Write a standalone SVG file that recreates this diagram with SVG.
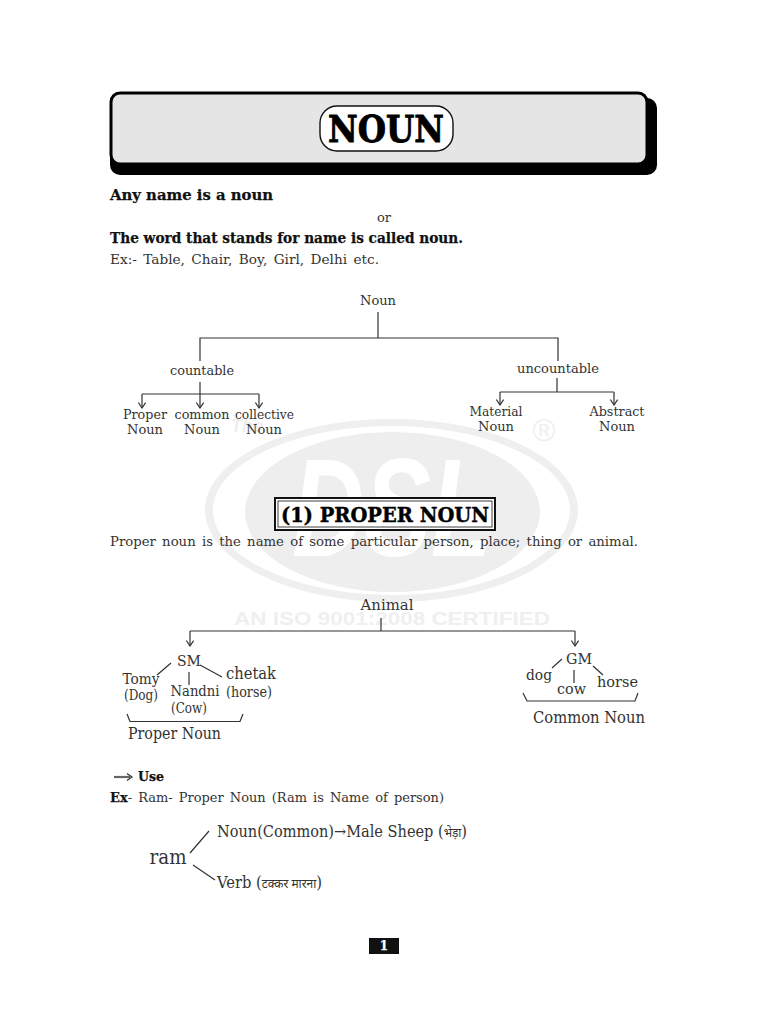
<svg xmlns="http://www.w3.org/2000/svg" width="768" height="1024" viewBox="0 0 768 1024">
<style>
text{font-family:"DejaVu Serif","Liberation Serif",serif;fill:#333}
.b{font-weight:bold;fill:#111;stroke:#111;stroke-width:.25}
.m{text-anchor:middle}
.s{font-size:13px}
.t{word-spacing:2px}
.c{fill:none;stroke:#333;stroke-width:1.2}
.wt{font-family:"Liberation Sans",sans-serif;font-weight:bold}
.d{font-family:"Noto Sans Devanagari","Noto Sans",sans-serif;font-size:13px}
</style>
<defs><marker id="a" viewBox="0 0 10 10" refX="9" refY="5" markerWidth="9" markerHeight="9" markerUnits="userSpaceOnUse" orient="auto"><path d="M3 1 L9 5 L3 9" fill="none" stroke="#333" stroke-width="1.3"/></marker></defs>
<rect width="768" height="1024" fill="#fff"/>
<g id="watermark">
<path fill="#efefef" fill-rule="evenodd" d="M392 419C495 419 578 460 578 510C578 560 495 602 392 602C289 602 205 560 205 510C205 460 289 419 392 419ZM392 426C294 426 213 464 213 510C213 556 294 595 392 595C490 595 570 556 570 510C570 464 490 426 392 426Z"/>
<ellipse cx="392.500" cy="512" rx="147.500" ry="80" fill="#eeeeee"/>
<text class="wt" x="392" y="556" font-size="140" font-style="italic" text-anchor="middle" textLength="200" lengthAdjust="spacingAndGlyphs" style="fill:#fff">DSL</text>
<text class="wt" x="392" y="625" font-size="19" text-anchor="middle" textLength="316" lengthAdjust="spacingAndGlyphs" style="fill:#efefef">AN ISO 9001:2008 CERTIFIED</text>
<text class="wt" x="544" y="441" font-size="31" text-anchor="middle" style="fill:#efefef;font-weight:normal">®</text>
<text class="wt" x="247" y="432" font-size="18" font-style="italic" text-anchor="middle" style="fill:#eeeeee">The</text>
</g>
<g id="title">
<rect x="110" y="98" width="547" height="77" rx="10" fill="#000"/>
<rect x="111" y="93" width="536" height="71" rx="9" fill="#e5e5e5" stroke="#000" stroke-width="3"/>
<rect x="320" y="106" width="133" height="45" rx="17" fill="#fff" stroke="#111" stroke-width="1.4"/>
<text class="b m" x="386" y="142" font-size="37" textLength="116" lengthAdjust="spacingAndGlyphs" style="fill:#000;stroke:#000;stroke-width:.9">NOUN</text>
</g>
<g id="intro">
<text class="b" x="110" y="200" font-size="14.500" textLength="163" lengthAdjust="spacingAndGlyphs">Any name is a noun</text>
<text class="s m" x="384" y="222">or</text>
<text class="b" x="110" y="243" font-size="14.500" textLength="353" lengthAdjust="spacingAndGlyphs">The word that stands for name is called noun.</text>
<text class="s t" x="110" y="264" textLength="269" lengthAdjust="spacingAndGlyphs">Ex:- Table, Chair, Boy, Girl, Delhi etc.</text>
</g>
<g id="connectors">
<path class="c" d="M378 312V338M200 361V338H558V361"/>
<path class="c" d="M200 382V394M142 394H259M557 378V392M500 392H614"/>
<path class="c" marker-end="url(#a)" d="M142 394V408"/>
<path class="c" marker-end="url(#a)" d="M200 394V408"/>
<path class="c" marker-end="url(#a)" d="M259 394V408"/>
<path class="c" marker-end="url(#a)" d="M500 392V405"/>
<path class="c" marker-end="url(#a)" d="M614 392V405"/>
<path class="c" d="M381 618V631M190 631H575"/>
<path class="c" marker-end="url(#a)" d="M190 631V646"/>
<path class="c" marker-end="url(#a)" d="M575 631V646"/>
<path class="c" d="M157 675L171 663M200 665L222 677M189 672V685M127 714L130 721.500H240L243 714"/>
<path class="c" d="M552 668L562 659M593 666L603 675M574 670V683M523 693L527 701H635L638 693"/>
<path class="c" d="M190 853L209 831M193 865L215 880"/>
<path d="M114 777H130" fill="none" stroke="#666" stroke-width="2.200"/><path class="c" d="M127 773.500L132 777L127 780.500"/>
</g>
<g id="n-noun"><text class="s m" x="378" y="305">Noun</text></g>
<g id="n-countable"><text class="s m" x="202" y="375" textLength="64" lengthAdjust="spacingAndGlyphs">countable</text></g>
<g id="n-uncountable"><text class="s m" x="558" y="373" textLength="82" lengthAdjust="spacingAndGlyphs">uncountable</text></g>
<g id="n-proper"><text class="s m" x="145" y="419" textLength="44" lengthAdjust="spacingAndGlyphs">Proper</text><text class="s m" x="145" y="434">Noun</text></g>
<g id="n-common"><text class="s m" x="202" y="419" textLength="55" lengthAdjust="spacingAndGlyphs">common</text><text class="s m" x="202" y="434">Noun</text></g>
<g id="n-collective"><text class="s m" x="264.500" y="419" textLength="59" lengthAdjust="spacingAndGlyphs">collective</text><text class="s m" x="264" y="434">Noun</text></g>
<g id="n-material"><text class="s m" x="496" y="416" textLength="53" lengthAdjust="spacingAndGlyphs">Material</text><text class="s m" x="496" y="431">Noun</text></g>
<g id="n-abstract"><text class="s m" x="617" y="416" textLength="55" lengthAdjust="spacingAndGlyphs">Abstract</text><text class="s m" x="617" y="431">Noun</text></g>
<g id="heading">
<rect x="275" y="498" width="220" height="32" fill="#fff" stroke="#111" stroke-width="2"/>
<rect x="278" y="501" width="214" height="26" fill="none" stroke="#111" stroke-width="0.8"/>
<text class="b m" x="385" y="522" font-size="20.500" textLength="208" lengthAdjust="spacingAndGlyphs" style="fill:#000;stroke:#000;stroke-width:.4">(1) PROPER NOUN</text>
</g>
<text class="s t" x="110" y="546" textLength="528" lengthAdjust="spacingAndGlyphs">Proper noun is the name of some particular person, place; thing or animal.</text>
<g id="n-animal"><text class="m" x="387" y="610" font-size="15" textLength="53" lengthAdjust="spacingAndGlyphs">Animal</text></g>
<g id="n-sm"><text class="m" x="189" y="666" font-size="15" textLength="24" lengthAdjust="spacingAndGlyphs">SM</text></g>
<g id="n-tomy"><text class="m" x="141" y="684" font-size="15" textLength="37" lengthAdjust="spacingAndGlyphs">Tomy</text><text class="m" x="141" y="700" font-size="14" textLength="34" lengthAdjust="spacingAndGlyphs">(Dog)</text></g>
<g id="n-nandni"><text class="m" x="195" y="696" font-size="15" textLength="49" lengthAdjust="spacingAndGlyphs">Nandni</text><text class="m" x="189" y="713" font-size="14" textLength="36" lengthAdjust="spacingAndGlyphs">(Cow)</text></g>
<g id="n-chetak"><text class="m" x="251" y="679" font-size="16" textLength="50" lengthAdjust="spacingAndGlyphs">chetak</text><text class="m" x="249" y="697" font-size="14" textLength="46" lengthAdjust="spacingAndGlyphs">(horse)</text></g>
<g id="n-propernoun"><text class="m" x="174.500" y="739" font-size="16" textLength="93" lengthAdjust="spacingAndGlyphs">Proper Noun</text></g>
<g id="n-gm"><text class="m" x="579" y="664" font-size="15" textLength="26" lengthAdjust="spacingAndGlyphs">GM</text></g>
<g id="n-dog"><text class="m" x="539" y="680" font-size="15" textLength="26" lengthAdjust="spacingAndGlyphs">dog</text></g>
<g id="n-cow"><text class="m" x="571.500" y="694" font-size="15" textLength="29" lengthAdjust="spacingAndGlyphs">cow</text></g>
<g id="n-horse"><text class="m" x="617.500" y="687" font-size="15" textLength="41" lengthAdjust="spacingAndGlyphs">horse</text></g>
<g id="n-commonnoun"><text class="m" x="589" y="723" font-size="16" textLength="112" lengthAdjust="spacingAndGlyphs">Common Noun</text></g>
<g id="use">
<text class="b" x="138" y="781" font-size="12" textLength="26" lengthAdjust="spacingAndGlyphs">Use</text>
<text class="s t" x="110" y="802" textLength="334" lengthAdjust="spacingAndGlyphs"><tspan class="b">Ex</tspan>- Ram- Proper Noun (Ram is Name of person)</text>
</g>
<g id="n-ram"><text class="m" x="168" y="864" font-size="20" textLength="37" lengthAdjust="spacingAndGlyphs">ram</text></g>
<g id="n-noun-common"><text x="217" y="837" font-size="16" textLength="250" lengthAdjust="spacingAndGlyphs">Noun(Common)→Male Sheep (<tspan class="d">भेड़ा</tspan>)</text></g>
<g id="n-verb"><text x="217" y="888" font-size="16" textLength="105" lengthAdjust="spacingAndGlyphs">Verb (<tspan class="d">टक्कर मारना</tspan>)</text></g>
<g id="page"><rect x="369" y="938" width="30" height="16" fill="#111"/><text class="b m" x="384" y="950" font-size="12" style="fill:#fff;stroke:#fff">1</text></g>
</svg>
